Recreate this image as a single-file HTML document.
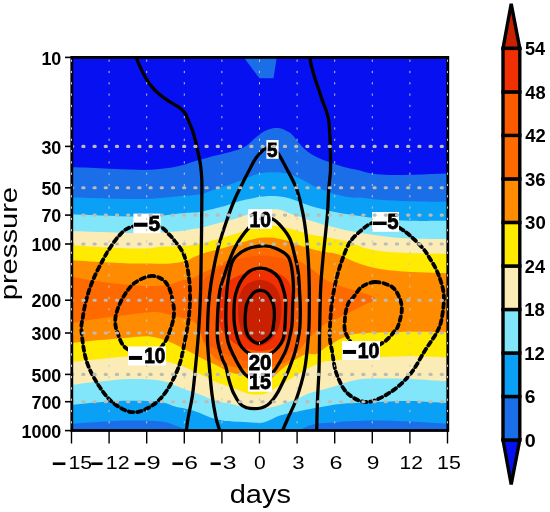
<!DOCTYPE html>
<html><head><meta charset="utf-8"><style>
html,body{margin:0;padding:0;background:#fff;}
svg{display:block;}
text{font-family:"Liberation Sans",sans-serif;}
.vg{stroke:#c8c8c8;stroke-width:1;stroke-dasharray:2.2 9.1;}
.hg{stroke:#bcbcb6;stroke-width:3.1;stroke-dasharray:1.2 10;stroke-linecap:round;}
.cs{fill:none;stroke:#000;stroke-width:3.3;}
.cd{fill:none;stroke:#000;stroke-width:3.8;stroke-dasharray:4.4 3.9;stroke-linecap:round;}
.cl{font-family:"Liberation Sans",sans-serif;font-weight:bold;font-size:19px;text-anchor:middle;}
.yl{font-family:"Liberation Sans",sans-serif;font-weight:bold;font-size:17.5px;}
.xl{font-family:"Liberation Sans",sans-serif;font-size:16.5px;}
.at{font-family:"Liberation Sans",sans-serif;font-size:26px;}
.cbl{font-family:"Liberation Sans",sans-serif;font-weight:bold;font-size:15.5px;}
</style></head><body>
<svg width="550" height="512" viewBox="0 0 550 512">
<defs><clipPath id="pc"><rect x="71.5" y="57.4" width="376.3" height="373.1"/></clipPath></defs>
<rect width="550" height="512" fill="#fff"/>
<g clip-path="url(#pc)">
<rect x="60" y="50" width="400" height="390" fill="#0610f0"/>
<path d="M60.0,167.3C61.9,167.3 66.5,167.2 71.5,167.3C76.5,167.4 83.6,167.6 90.0,167.8C96.4,168.1 103.3,168.5 110.0,168.8C116.7,169.1 123.3,169.4 130.0,169.6C136.7,169.8 143.7,170.1 150.0,169.8C156.3,169.6 162.7,168.8 168.0,168.1C173.3,167.3 177.9,166.3 182.0,165.3C186.1,164.3 189.0,163.0 192.3,162.0C195.6,161.0 198.5,160.3 202.0,159.3C205.5,158.3 209.6,157.1 213.4,156.0C217.2,155.0 221.1,154.2 225.0,153.2C228.9,152.2 233.7,151.1 237.0,150.0C240.3,148.9 242.7,147.8 245.0,146.5C247.3,145.2 249.0,143.7 251.0,142.0C253.0,140.3 254.8,138.2 257.0,136.5C259.2,134.8 261.5,132.8 264.0,131.5C266.5,130.2 269.3,129.0 272.0,128.5C274.7,128.0 277.5,127.9 280.0,128.3C282.5,128.8 285.0,130.2 287.0,131.2C289.0,132.2 289.2,131.6 292.0,134.5C294.8,137.4 299.6,144.5 304.0,148.4C308.4,152.3 312.6,155.1 318.1,157.8C323.6,160.5 331.6,163.0 336.9,164.8C342.2,166.6 346.1,167.5 350.0,168.4C353.9,169.3 356.7,169.7 360.0,170.5C363.3,171.3 365.8,172.5 370.0,173.2C374.2,173.9 380.0,174.5 385.0,174.8C390.0,175.1 394.2,175.1 400.0,175.0C405.8,174.9 412.1,174.8 420.0,174.5C427.9,174.2 440.8,173.7 447.5,173.5C454.2,173.3 457.9,173.5 460.0,173.5L455,440L66,440Z" fill="#1a6ee8"/>
<path d="M243,52 L243.5,57 L259.5,78.3 L273.5,78.3 L276.8,57 L277,52Z" fill="#1a6ee8"/>
<path d="M60.0,197.3C61.9,197.3 66.5,197.2 71.5,197.3C76.5,197.4 83.6,197.9 90.0,198.1C96.4,198.3 103.3,198.3 110.0,198.5C116.7,198.7 123.3,198.9 130.0,199.0C136.7,199.1 143.7,199.1 150.0,198.8C156.3,198.5 162.7,197.8 168.0,197.3C173.3,196.8 178.0,196.2 182.0,195.9C186.0,195.6 189.0,195.5 192.0,195.2C195.0,194.9 197.5,194.8 200.0,194.3C202.5,193.8 204.5,193.0 207.0,192.2C209.5,191.3 212.0,190.2 215.0,189.2C218.0,188.2 221.7,187.1 225.0,186.0C228.3,184.9 231.7,184.0 235.0,182.8C238.3,181.6 241.7,180.1 245.0,178.8C248.3,177.5 252.2,175.8 255.0,174.8C257.8,173.8 259.5,173.4 262.0,173.0C264.5,172.6 267.0,172.4 270.0,172.3C273.0,172.2 276.7,172.1 280.0,172.4C283.3,172.7 286.7,173.2 290.0,174.2C293.3,175.2 296.7,176.9 300.0,178.5C303.3,180.1 306.7,182.3 310.0,184.0C313.3,185.7 315.5,186.8 320.0,188.5C324.5,190.2 331.7,193.0 336.9,194.5C342.1,196.0 347.1,197.1 351.0,197.6C354.9,198.1 355.2,197.1 360.0,197.5C364.8,197.9 371.7,199.2 380.0,199.8C388.3,200.4 398.8,200.9 410.0,201.2C421.2,201.5 439.2,201.7 447.5,201.8C455.8,201.9 457.9,201.8 460.0,201.8L460.0,424.0C457.9,424.0 455.8,424.2 447.5,423.8C439.2,423.4 422.1,422.2 410.0,421.6C397.9,421.1 385.8,420.5 375.0,420.5C364.2,420.5 351.7,421.2 345.0,421.5C338.3,421.8 339.5,422.2 335.0,422.5C330.5,422.8 322.5,422.9 318.0,423.5C313.5,424.1 310.7,425.1 308.0,426.0C305.3,426.9 303.8,428.0 302.0,429.0C300.2,430.0 299.0,430.7 297.0,432.0C295.0,433.3 305.3,436.2 290.0,437.0C274.7,437.8 220.8,437.7 205.0,437.0C189.2,436.3 198.3,434.3 195.0,433.0C191.7,431.7 188.3,430.2 185.0,429.0C181.7,427.8 178.3,426.7 175.0,425.5C171.7,424.3 169.2,422.8 165.0,422.0C160.8,421.2 156.2,420.9 150.0,420.7C143.8,420.5 134.7,420.5 128.0,420.6C121.3,420.7 116.3,420.9 110.0,421.2C103.7,421.5 96.4,422.1 90.0,422.5C83.6,422.9 76.5,423.6 71.5,423.8C66.5,424.1 61.9,424.0 60.0,424.0Z" fill="#0aa0f5"/>
<path d="M60.0,214.5C61.9,214.5 66.5,214.4 71.5,214.5C76.5,214.6 83.6,214.8 90.0,215.0C96.4,215.2 103.3,215.6 110.0,215.8C116.7,216.1 123.3,216.4 130.0,216.5C136.7,216.6 143.7,216.6 150.0,216.3C156.3,216.1 162.7,215.5 168.0,215.0C173.3,214.5 178.0,213.7 182.0,213.3C186.0,212.9 189.0,212.8 192.0,212.6C195.0,212.4 197.5,212.3 200.0,211.9C202.5,211.5 204.5,210.9 207.0,210.3C209.5,209.7 212.0,209.1 215.0,208.4C218.0,207.7 221.7,207.0 225.0,206.0C228.3,205.0 231.7,203.6 235.0,202.6C238.3,201.6 241.7,200.6 245.0,199.8C248.3,199.0 252.2,198.2 255.0,197.7C257.8,197.1 259.5,196.8 262.0,196.5C264.5,196.2 267.0,195.9 270.0,195.9C273.0,195.9 276.7,196.0 280.0,196.4C283.3,196.8 286.7,197.6 290.0,198.5C293.3,199.4 296.7,200.8 300.0,202.0C303.3,203.2 306.7,204.7 310.0,205.8C313.3,206.9 316.7,207.7 320.0,208.6C323.3,209.5 326.7,210.4 330.0,211.1C333.3,211.8 336.7,212.4 340.0,213.0C343.3,213.6 343.3,213.6 350.0,214.6C356.7,215.6 370.0,217.9 380.0,218.9C390.0,219.9 398.8,220.5 410.0,220.8C421.2,221.1 439.2,220.8 447.5,220.8C455.8,220.8 457.9,220.8 460.0,220.8L460.0,403.0C457.9,403.0 455.8,403.3 447.5,403.0C439.2,402.7 422.1,401.2 410.0,401.0C397.9,400.8 385.8,401.6 375.0,402.0C364.2,402.4 352.5,403.0 345.0,403.6C337.5,404.2 335.8,404.6 330.0,405.5C324.2,406.4 315.8,407.9 310.0,409.0C304.2,410.1 300.0,410.9 295.0,412.0C290.0,413.1 285.0,413.8 280.0,415.5C275.0,417.2 269.2,420.8 265.0,422.0C260.8,423.2 259.2,422.7 255.0,422.7C250.8,422.7 245.0,422.1 240.0,421.8C235.0,421.5 229.9,421.7 225.0,421.0C220.1,420.3 214.9,418.9 210.5,417.5C206.1,416.1 202.5,413.9 198.6,412.5C194.7,411.1 190.7,410.0 186.8,409.0C182.9,408.0 178.6,407.5 175.0,406.5C171.4,405.5 169.2,403.9 165.0,403.0C160.8,402.1 156.2,401.4 150.0,401.0C143.8,400.6 134.7,400.6 128.0,400.7C121.3,400.8 116.3,401.1 110.0,401.5C103.7,401.9 96.4,402.5 90.0,403.0C83.6,403.5 76.5,404.4 71.5,404.7C66.5,405.0 61.9,404.9 60.0,405.0Z" fill="#82e6fa"/>
<path d="M60.0,231.0C61.9,231.0 66.5,230.9 71.5,231.0C76.5,231.1 83.6,231.6 90.0,231.8C96.4,232.0 103.3,232.1 110.0,232.3C116.7,232.5 123.3,232.9 130.0,233.0C136.7,233.1 145.0,232.9 150.0,232.8C155.0,232.7 156.3,232.8 160.0,232.6C163.7,232.4 167.8,232.2 172.0,231.8C176.2,231.5 181.2,231.0 185.0,230.5C188.8,230.0 192.5,229.2 195.0,228.8C197.5,228.4 198.0,228.4 200.0,228.0C202.0,227.6 204.5,227.0 207.0,226.3C209.5,225.6 212.0,224.8 215.0,224.0C218.0,223.2 221.7,222.4 225.0,221.5C228.3,220.6 231.7,219.8 235.0,218.8C238.3,217.8 242.2,216.5 245.0,215.5C247.8,214.5 249.8,213.7 252.0,213.0C254.2,212.3 255.8,211.8 258.0,211.3C260.2,210.8 262.7,210.3 265.0,210.0C267.3,209.7 269.5,209.3 272.0,209.3C274.5,209.3 277.0,209.1 280.0,209.8C283.0,210.5 286.7,212.3 290.0,213.5C293.3,214.7 296.7,215.6 300.0,216.8C303.3,218.0 306.7,219.4 310.0,220.5C313.3,221.6 316.7,222.5 320.0,223.5C323.3,224.5 326.7,225.4 330.0,226.3C333.3,227.2 336.7,228.0 340.0,228.8C343.3,229.6 343.3,229.8 350.0,231.0C356.7,232.2 370.0,234.6 380.0,235.8C390.0,237.1 398.8,238.0 410.0,238.5C421.2,239.0 439.2,238.9 447.5,239.0C455.8,239.1 457.9,239.0 460.0,239.0L460.0,381.3C457.9,381.3 455.8,381.7 447.5,381.3C439.2,380.9 422.9,379.5 410.0,379.0C397.1,378.5 379.8,378.2 370.0,378.5C360.2,378.8 357.5,379.7 351.5,381.0C345.5,382.3 338.4,385.2 334.0,386.5C329.6,387.8 329.2,387.8 325.0,389.0C320.8,390.2 313.2,391.9 308.6,393.5C304.1,395.1 302.2,396.8 297.7,398.6C293.2,400.4 286.0,403.0 281.4,404.5C276.8,406.0 273.6,406.7 270.0,407.5C266.4,408.3 263.2,409.3 259.5,409.5C255.8,409.7 252.4,409.4 247.7,408.5C243.0,407.6 236.8,405.3 231.4,404.0C226.0,402.7 220.5,402.2 215.0,400.5C209.5,398.8 203.3,395.8 198.6,394.0C193.9,392.2 190.7,391.4 186.8,390.0C182.9,388.6 178.6,386.9 175.0,385.5C171.4,384.1 169.2,382.5 165.0,381.5C160.8,380.5 156.2,379.9 150.0,379.5C143.8,379.1 134.7,378.8 128.0,379.0C121.3,379.2 116.3,379.9 110.0,380.5C103.7,381.1 96.4,381.8 90.0,382.5C83.6,383.2 76.5,384.5 71.5,385.0C66.5,385.5 61.9,385.4 60.0,385.5Z" fill="#fbebb4"/>
<path d="M60.0,245.0C61.9,245.0 66.5,244.8 71.5,245.0C76.5,245.2 83.6,246.1 90.0,246.5C96.4,246.9 103.3,247.3 110.0,247.6C116.7,247.9 123.3,248.4 130.0,248.5C136.7,248.6 145.0,248.6 150.0,248.3C155.0,248.0 156.3,247.1 160.0,246.8C163.7,246.5 167.8,246.6 172.0,246.5C176.2,246.4 181.2,246.4 185.0,246.1C188.8,245.8 192.5,245.0 195.0,244.6C197.5,244.2 198.0,244.2 200.0,243.8C202.0,243.4 204.5,242.6 207.0,242.0C209.5,241.4 212.0,240.8 215.0,240.0C218.0,239.2 221.7,238.0 225.0,237.0C228.3,236.0 231.7,235.1 235.0,234.0C238.3,232.9 242.2,231.5 245.0,230.5C247.8,229.5 249.5,228.9 252.0,228.2C254.5,227.5 257.0,226.7 260.0,226.3C263.0,225.9 266.7,225.6 270.0,225.6C273.3,225.6 276.7,225.9 280.0,226.4C283.3,226.9 286.7,227.8 290.0,228.7C293.3,229.5 296.7,230.5 300.0,231.5C303.3,232.5 306.7,233.7 310.0,234.5C313.3,235.3 316.7,235.7 320.0,236.3C323.3,236.9 326.7,237.4 330.0,238.0C333.3,238.6 336.7,239.2 340.0,240.0C343.3,240.8 345.0,241.0 350.0,242.5C355.0,244.0 361.7,247.6 370.0,249.2C378.3,250.9 387.1,252.0 400.0,252.7C412.9,253.4 437.5,253.5 447.5,253.7C457.5,253.9 457.9,253.7 460.0,253.7L460.0,357.3C457.9,357.3 455.8,357.5 447.5,357.3C439.2,357.1 422.9,356.2 410.0,356.2C397.1,356.2 379.8,357.1 370.0,357.5C360.2,357.9 357.5,357.7 351.5,358.3C345.5,358.9 338.1,360.6 334.0,361.0C329.9,361.4 329.4,360.6 327.0,361.0C324.6,361.4 322.6,362.0 319.5,363.2C316.4,364.4 312.2,366.2 308.6,368.1C305.0,370.0 301.3,372.4 297.7,374.6C294.1,376.8 290.4,379.0 286.8,381.2C283.2,383.4 279.5,385.6 275.9,387.7C272.3,389.8 267.7,392.6 265.0,393.7C262.3,394.8 262.4,394.5 259.5,394.5C256.6,394.5 252.4,394.7 247.7,393.5C243.0,392.3 236.8,389.5 231.4,387.5C226.0,385.5 220.2,383.8 215.0,381.5C209.8,379.2 205.5,376.6 200.0,374.0C194.5,371.4 186.8,367.9 181.8,366.0C176.8,364.1 174.5,363.6 170.0,362.5C165.5,361.4 159.0,360.1 155.0,359.3C151.0,358.5 150.5,358.0 146.0,357.5C141.5,357.0 134.0,356.4 128.0,356.5C122.0,356.6 116.3,357.4 110.0,358.0C103.7,358.6 96.4,359.3 90.0,360.0C83.6,360.7 76.5,361.6 71.5,362.0C66.5,362.4 61.9,362.4 60.0,362.5Z" fill="#ffeb00"/>
<path d="M60.0,260.3C61.9,260.3 66.5,260.1 71.5,260.3C76.5,260.5 83.6,261.1 90.0,261.5C96.4,261.9 103.3,262.2 110.0,262.5C116.7,262.8 123.3,263.3 130.0,263.5C136.7,263.7 143.7,263.5 150.0,263.5C156.3,263.5 162.2,264.1 168.0,263.7C173.8,263.3 180.8,262.3 185.0,261.3C189.2,260.3 190.5,258.6 193.0,257.5C195.5,256.4 197.7,255.4 200.0,254.5C202.3,253.6 204.5,253.0 207.0,252.3C209.5,251.6 212.0,251.1 215.0,250.3C218.0,249.5 221.7,248.5 225.0,247.5C228.3,246.5 231.7,245.5 235.0,244.5C238.3,243.5 241.7,242.5 245.0,241.5C248.3,240.5 251.7,239.4 255.0,238.7C258.3,238.0 261.7,237.6 265.0,237.5C268.3,237.4 270.8,237.3 275.0,238.0C279.2,238.7 285.8,240.3 290.0,241.6C294.2,242.8 296.1,244.2 300.0,245.5C303.9,246.8 309.2,248.4 313.4,249.5C317.6,250.6 320.9,251.2 325.0,252.0C329.1,252.8 333.0,252.5 338.0,254.2C343.0,255.9 348.8,259.7 355.0,262.0C361.2,264.3 367.5,266.5 375.0,268.1C382.5,269.6 387.9,270.4 400.0,271.3C412.1,272.2 437.5,273.0 447.5,273.3C457.5,273.6 457.9,273.3 460.0,273.3L460.0,332.0C457.9,332.0 455.8,332.1 447.5,332.0C439.2,331.9 422.9,331.6 410.0,331.7C397.1,331.8 379.8,332.3 370.0,332.8C360.2,333.3 356.1,333.7 351.5,334.6C346.9,335.5 345.6,336.8 342.7,338.1C339.8,339.4 336.9,340.9 334.0,342.5C331.1,344.1 328.0,345.9 325.1,347.8C322.2,349.7 319.3,353.1 316.4,354.0C313.5,354.9 310.2,353.1 307.6,353.5C305.0,353.9 303.6,355.2 301.0,356.5C298.4,357.8 295.6,359.3 292.3,361.5C289.0,363.7 284.8,366.8 281.4,369.5C278.0,372.2 274.4,376.5 272.0,378.0C269.6,379.5 269.1,378.7 267.0,378.5C264.9,378.3 262.7,377.5 259.5,377.0C256.3,376.5 252.7,376.2 248.0,375.5C243.3,374.8 236.9,374.5 231.4,372.7C225.9,370.9 219.7,366.8 215.0,364.5C210.3,362.2 207.3,361.2 203.0,359.0C198.7,356.8 194.6,354.4 189.0,351.5C183.4,348.6 176.0,344.2 169.5,341.7C163.0,339.2 156.9,337.1 150.0,336.5C143.1,335.9 134.7,337.4 128.0,337.8C121.3,338.2 116.3,338.7 110.0,339.2C103.7,339.7 96.4,340.4 90.0,341.0C83.6,341.6 76.5,342.6 71.5,343.0C66.5,343.4 61.9,343.4 60.0,343.5Z" fill="#ff8c00"/>
<path d="M60.0,277.0C61.9,269.3 66.5,276.5 71.5,277.0C76.5,277.5 83.6,279.0 90.0,280.0C96.4,281.0 103.3,282.2 110.0,283.0C116.7,283.8 123.3,284.5 130.0,285.0C136.7,285.5 143.7,286.0 150.0,286.0C156.3,286.0 163.0,285.8 168.0,285.0C173.0,284.2 176.0,282.1 180.0,281.0C184.0,279.9 188.7,279.6 192.0,278.5C195.3,277.4 197.5,275.5 200.0,274.2C202.5,272.9 204.5,272.0 207.0,270.8C209.5,269.6 212.0,268.8 215.0,267.2C218.0,265.6 221.7,263.4 225.0,261.5C228.3,259.6 231.7,257.7 235.0,256.0C238.3,254.3 241.7,252.7 245.0,251.5C248.3,250.3 252.2,249.5 255.0,249.0C257.8,248.5 259.5,248.3 262.0,248.3C264.5,248.3 267.0,248.4 270.0,248.8C273.0,249.2 276.7,249.6 280.0,250.5C283.3,251.4 286.0,252.3 290.0,254.5C294.0,256.7 300.0,261.0 304.0,263.7C308.0,266.4 310.3,268.1 314.0,270.8C317.7,273.5 320.8,277.2 326.0,280.0C331.2,282.8 339.3,285.5 345.0,287.5C350.7,289.5 354.9,290.1 360.0,292.0C365.1,293.9 375.1,296.3 375.4,298.6C375.7,300.9 367.4,303.1 362.0,306.0C356.6,308.9 348.8,313.0 342.7,316.0C336.6,319.0 329.5,321.5 325.1,324.0C320.7,326.5 319.3,328.4 316.4,331.0C313.5,333.6 310.5,336.7 307.6,339.9C304.7,343.1 301.7,347.0 298.8,350.4C295.9,353.8 294.0,357.4 290.0,360.0C286.0,362.6 280.1,364.7 275.0,366.0C269.9,367.3 265.3,367.7 259.5,368.0C253.7,368.3 245.8,368.7 240.0,368.0C234.2,367.3 229.7,366.2 225.0,364.0C220.3,361.8 215.5,358.5 212.0,355.0C208.5,351.5 206.2,347.3 204.0,343.0C201.8,338.7 200.8,332.6 199.0,329.0C197.2,325.4 196.4,323.2 193.2,321.3C189.9,319.4 185.0,318.8 179.5,317.3C174.0,315.8 164.9,313.3 160.0,312.5C155.1,311.7 155.0,312.0 150.0,312.3C145.0,312.6 136.7,313.7 130.0,314.5C123.3,315.3 116.7,316.1 110.0,317.0C103.3,317.9 96.4,319.0 90.0,320.0C83.6,321.0 76.5,322.5 71.5,323.0C66.5,323.5 61.9,330.7 60.0,323.0C58.1,315.3 58.1,284.7 60.0,277.0Z" fill="#ff6a00"/>
<path d="M260.0,255.5C265.3,255.2 268.0,255.9 272.0,256.5C276.0,257.1 280.5,257.8 284.0,259.0C287.5,260.2 290.6,261.8 293.0,264.0C295.4,266.2 297.2,268.5 298.5,272.0C299.8,275.5 300.1,280.3 300.5,285.0C300.9,289.7 301.0,294.2 301.0,300.0C301.0,305.8 300.8,314.2 300.5,320.0C300.2,325.8 300.2,330.5 299.5,335.0C298.8,339.5 298.1,343.7 296.0,347.0C293.9,350.3 290.5,352.8 287.0,355.0C283.5,357.2 279.5,358.8 275.0,360.0C270.5,361.2 265.0,361.9 260.0,362.0C255.0,362.1 250.0,361.5 245.0,360.5C240.0,359.5 234.8,357.9 230.0,356.0C225.2,354.1 220.0,351.0 216.0,349.0C212.0,347.0 208.4,346.3 206.0,344.0C203.6,341.7 202.4,339.0 201.5,335.0C200.6,331.0 200.5,325.8 200.3,320.0C200.1,314.2 200.3,305.3 200.5,300.0C200.7,294.7 200.9,291.3 201.5,288.0C202.1,284.7 202.6,282.3 204.0,280.0C205.4,277.7 207.7,275.9 210.0,274.0C212.3,272.1 215.0,270.3 218.0,268.5C221.0,266.7 224.3,264.7 228.0,263.0C231.7,261.3 234.7,259.8 240.0,258.5C245.3,257.2 254.7,255.8 260.0,255.5Z" fill="#fa5a00"/>
<path d="M260.0,270.5C263.7,270.6 268.3,271.2 272.0,272.0C275.7,272.8 279.2,273.8 282.0,275.5C284.8,277.2 287.3,279.2 289.0,282.0C290.7,284.8 291.3,288.0 292.0,292.0C292.7,296.0 292.9,301.3 293.0,306.0C293.1,310.7 293.0,315.7 292.5,320.0C292.0,324.3 291.4,328.3 290.0,332.0C288.6,335.7 286.8,339.2 284.0,342.0C281.2,344.8 277.0,347.0 273.0,348.5C269.0,350.0 264.3,350.9 260.0,351.0C255.7,351.1 251.2,350.2 247.0,349.0C242.8,347.8 238.5,345.7 235.0,343.5C231.5,341.3 228.5,338.9 226.0,336.0C223.5,333.1 221.3,329.8 220.0,326.0C218.7,322.2 218.2,317.3 218.0,313.0C217.8,308.7 217.8,303.8 218.5,300.0C219.2,296.2 220.2,293.2 222.0,290.0C223.8,286.8 226.0,283.5 229.0,281.0C232.0,278.5 236.5,276.6 240.0,275.0C243.5,273.4 246.7,272.2 250.0,271.5C253.3,270.8 256.3,270.4 260.0,270.5Z" fill="#f03000"/>
<path d="M260.0,280.0C263.0,280.0 266.3,280.7 269.0,282.0C271.7,283.3 274.2,285.5 276.0,288.0C277.8,290.5 279.1,293.7 280.0,297.0C280.9,300.3 281.4,304.2 281.5,308.0C281.6,311.8 281.2,316.0 280.5,320.0C279.8,324.0 278.8,328.5 277.0,332.0C275.2,335.5 272.8,338.7 270.0,341.0C267.2,343.3 263.3,345.8 260.0,346.0C256.7,346.2 252.8,344.0 250.0,342.0C247.2,340.0 244.8,337.3 243.0,334.0C241.2,330.7 239.8,326.3 239.0,322.0C238.2,317.7 237.9,312.3 238.0,308.0C238.1,303.7 238.5,299.5 239.5,296.0C240.5,292.5 242.1,289.3 244.0,287.0C245.9,284.7 248.3,283.2 251.0,282.0C253.7,280.8 257.0,280.0 260.0,280.0Z" fill="#c82000"/>
<path d="M136.0,50.0C136.1,51.3 135.8,54.9 136.6,57.8C137.3,60.7 139.0,64.3 140.5,67.6C142.0,70.8 143.6,74.2 145.4,77.3C147.2,80.4 149.0,83.3 151.3,86.1C153.6,88.9 156.1,91.5 159.0,94.0C161.9,96.5 165.5,99.0 168.8,101.2C172.1,103.4 176.0,105.1 178.6,107.0C181.2,108.9 182.9,110.3 184.5,112.5C186.1,114.7 187.1,117.4 188.4,120.3C189.7,123.2 191.2,126.8 192.3,130.0C193.4,133.2 194.3,136.5 195.2,139.8C196.1,143.1 196.6,145.8 197.5,150.0C198.4,154.2 199.8,160.0 200.5,165.0C201.2,170.0 201.6,174.2 201.8,180.0C202.0,185.8 201.9,188.3 201.8,200.0C201.7,211.7 201.6,233.3 201.3,250.0C201.1,266.7 200.8,286.2 200.3,300.0C199.8,313.8 199.3,321.8 198.5,333.0C197.7,344.2 196.5,356.7 195.5,367.0C194.5,377.3 193.7,386.7 192.5,395.0C191.3,403.3 189.3,411.2 188.3,417.0C187.3,422.8 186.9,426.8 186.4,430.0C185.9,433.2 185.7,435.0 185.5,436.0" class="cs"/>
<path d="M309.5,50.0C309.6,51.4 309.2,54.3 309.9,58.2C310.5,62.1 312.0,68.5 313.4,73.4C314.8,78.3 316.5,82.8 318.1,87.5C319.7,92.2 321.4,97.7 322.8,101.6C324.2,105.5 325.3,107.9 326.3,111.0C327.3,114.1 328.1,116.4 328.7,120.3C329.3,124.2 329.5,129.7 329.8,134.4C330.1,139.1 330.2,142.5 330.3,148.4C330.4,154.3 330.8,163.1 330.5,170.0C330.2,176.9 329.2,182.8 328.7,190.0C328.2,197.2 328.1,205.6 327.5,213.4C326.9,221.2 326.0,229.1 325.2,236.9C324.4,244.7 323.5,252.5 322.8,260.3C322.1,268.1 321.4,275.4 320.9,283.7C320.4,292.0 320.2,301.4 320.0,310.0C319.8,318.6 319.8,325.0 319.6,335.0C319.4,345.0 319.4,359.2 319.0,370.0C318.6,380.8 317.9,390.0 317.5,400.0C317.1,410.0 316.9,424.0 316.7,430.0C316.5,436.0 316.5,435.0 316.5,436.0" class="cs"/>
<path d="M221.0,436.0C220.8,435.0 220.4,433.2 219.5,430.0C218.6,426.8 217.0,422.8 215.8,417.0C214.6,411.2 213.2,403.2 212.1,395.0C211.0,386.8 210.2,376.7 209.4,367.5C208.6,358.3 207.7,348.8 207.5,340.0C207.3,331.2 207.8,321.7 208.0,315.0C208.2,308.3 208.5,305.0 209.0,300.0C209.5,295.0 210.1,290.0 210.8,285.0C211.5,280.0 212.5,274.7 213.4,270.0C214.3,265.3 215.0,261.4 216.0,257.0C217.0,252.6 217.8,249.0 219.3,243.7C220.8,238.4 223.2,230.8 225.2,225.0C227.1,219.2 229.1,213.7 231.0,208.6C232.9,203.5 234.8,199.2 236.9,194.5C239.1,189.8 241.7,184.8 243.9,180.5C246.1,176.2 248.0,172.4 250.0,168.7C252.0,164.9 253.5,161.3 256.0,158.0C258.5,154.7 261.8,150.3 265.0,149.0C268.2,147.7 271.7,146.6 275.4,150.0C279.1,153.4 283.5,162.8 287.1,169.5C290.7,176.2 294.4,182.7 297.0,190.0C299.6,197.3 301.3,205.6 302.9,213.4C304.5,221.2 305.5,229.1 306.4,236.9C307.3,244.7 307.8,252.5 308.3,260.3C308.8,268.1 309.0,275.4 309.2,283.7C309.4,292.0 309.4,301.4 309.3,310.0C309.2,318.6 309.3,325.0 308.5,335.0C307.7,345.0 306.6,359.2 304.5,370.0C302.4,380.8 298.8,392.0 296.0,400.0C293.2,408.0 290.3,412.7 288.0,418.0C285.7,423.3 283.2,429.0 282.0,432.0C280.8,435.0 281.2,435.3 281.0,436.0" class="cs"/>
<path d="M250.0,226.5C246.9,229.8 244.2,233.0 241.6,236.7C239.0,240.3 236.7,244.1 234.5,248.4C232.3,252.7 230.4,258.1 228.7,262.5C227.0,266.9 225.9,270.4 224.5,275.0C223.1,279.6 221.2,283.3 220.0,290.0C218.8,296.7 218.0,306.7 217.6,315.0C217.2,323.3 216.8,332.8 217.6,340.0C218.4,347.2 220.8,354.0 222.2,358.4C223.6,362.8 224.7,362.9 225.8,366.5C226.9,370.1 227.7,375.6 229.0,380.0C230.3,384.4 231.6,389.0 233.5,393.0C235.4,397.0 238.2,401.7 240.5,404.2C242.8,406.7 244.8,407.1 247.0,407.8C249.2,408.5 251.7,408.6 254.0,408.6C256.3,408.6 258.8,408.6 261.0,408.0C263.2,407.4 265.5,406.4 267.5,405.0C269.5,403.6 271.2,401.7 273.0,399.5C274.8,397.3 276.4,394.7 278.2,391.6C279.9,388.5 281.9,384.4 283.5,381.0C285.1,377.6 286.6,374.8 288.0,371.5C289.4,368.2 290.9,363.9 292.0,361.0C293.1,358.1 293.6,357.2 294.5,354.0C295.4,350.8 296.6,346.3 297.5,342.0C298.4,337.7 299.3,333.3 299.8,328.0C300.3,322.7 300.3,315.4 300.3,310.0C300.3,304.6 300.2,301.8 299.8,295.5C299.4,289.2 299.1,278.6 298.2,272.0C297.3,265.4 296.1,261.1 294.7,255.6C293.3,250.1 292.1,243.7 290.0,239.0C287.9,234.3 284.9,230.6 282.0,227.3C279.1,224.0 276.3,220.7 272.6,219.0C268.9,217.3 263.8,215.8 260.0,217.0C256.2,218.2 253.1,223.2 250.0,226.5Z" class="cs"/>
<path d="M263.4,245.9C268.4,245.7 271.9,246.8 276.0,248.5C280.1,250.2 285.3,252.8 288.0,256.4C290.7,260.0 291.1,264.4 292.0,270.0C292.9,275.6 293.4,284.1 293.5,290.0C293.6,295.9 292.9,299.8 292.7,305.6C292.4,311.4 292.6,319.3 292.0,325.0C291.4,330.7 290.0,335.8 289.0,340.0C288.0,344.2 287.3,346.7 286.0,350.0C284.7,353.3 282.9,356.6 281.0,360.0C279.1,363.4 276.7,367.7 274.5,370.5C272.3,373.3 270.4,374.9 268.0,377.0C265.6,379.1 263.3,383.1 260.0,383.0C256.7,382.9 250.9,378.7 248.0,376.7C245.1,374.7 244.9,374.9 242.4,371.2C239.9,367.5 235.6,359.6 233.2,354.7C230.8,349.8 229.2,346.9 228.0,342.0C226.8,337.1 226.3,331.1 226.0,325.0C225.7,318.9 225.8,312.3 226.0,305.6C226.2,298.9 226.8,290.9 227.5,285.0C228.2,279.1 228.9,274.4 230.0,270.0C231.1,265.6 231.3,262.1 234.0,258.7C236.7,255.3 241.1,251.6 246.0,249.5C250.9,247.4 258.4,246.1 263.4,245.9Z" class="cs"/>
<path d="M261.0,268.1C264.5,268.1 268.1,269.4 271.0,271.0C273.9,272.6 276.6,274.7 278.6,277.5C280.6,280.3 281.8,284.2 283.0,288.0C284.2,291.8 285.2,296.3 285.6,300.0C286.0,303.7 285.7,306.1 285.6,310.3C285.5,314.5 285.4,320.3 285.0,325.0C284.6,329.7 284.5,334.6 283.3,338.4C282.1,342.1 280.2,344.9 278.0,347.5C275.8,350.1 273.0,352.4 270.0,354.0C267.0,355.6 263.1,357.0 259.8,357.0C256.5,357.0 253.0,355.6 250.0,354.0C247.0,352.4 244.1,350.1 242.0,347.5C239.9,344.9 238.8,342.1 237.6,338.4C236.3,334.6 235.1,329.7 234.5,325.0C233.9,320.3 233.9,315.0 234.0,310.3C234.1,305.6 234.3,300.9 235.0,297.0C235.7,293.1 236.8,290.1 238.0,287.0C239.2,283.9 240.3,281.4 242.3,278.7C244.3,276.0 246.9,272.8 250.0,271.0C253.1,269.2 257.5,268.1 261.0,268.1Z" class="cs"/>
<path d="M259.8,290.4C261.8,290.3 264.2,290.8 266.0,292.0C267.8,293.2 269.1,295.2 270.4,297.4C271.6,299.6 272.8,302.1 273.5,305.0C274.2,307.9 274.4,311.7 274.4,315.0C274.4,318.3 274.0,321.9 273.5,325.0C273.0,328.1 272.9,331.2 271.6,333.7C270.4,336.2 268.1,338.4 266.0,340.0C263.9,341.6 261.0,343.2 258.7,343.3C256.4,343.4 253.9,342.1 252.0,340.5C250.1,338.9 248.1,336.3 247.0,333.7C245.9,331.1 245.6,328.1 245.3,325.0C245.0,321.9 245.1,318.3 245.3,315.0C245.5,311.7 245.8,307.7 246.5,305.0C247.2,302.3 248.1,300.7 249.3,298.6C250.6,296.5 252.2,293.9 254.0,292.5C255.8,291.1 257.8,290.5 259.8,290.4Z" class="cs"/>
<path d="M147.0,224.0C152.5,223.9 157.9,225.8 161.5,227.5C165.1,229.2 166.5,231.9 168.6,234.0C170.7,236.1 171.4,236.5 174.0,240.0C176.6,243.5 181.5,248.7 184.0,255.0C186.5,261.3 188.0,270.5 189.0,278.0C190.0,285.5 190.1,293.0 190.0,300.0C189.9,307.0 189.3,313.3 188.5,320.0C187.7,326.7 186.6,332.3 185.0,340.0C183.4,347.7 182.1,357.5 179.0,366.0C175.9,374.5 171.1,384.3 166.5,391.0C161.9,397.7 157.1,402.5 151.5,406.0C145.9,409.5 139.0,412.7 132.8,412.2C126.5,411.8 119.6,407.9 114.0,403.5C108.4,399.1 103.6,393.1 99.0,386.0C94.4,378.9 89.4,370.2 86.5,361.0C83.6,351.8 82.1,338.2 81.5,331.0C80.9,323.8 81.9,323.4 82.7,318.0C83.5,312.6 84.8,305.1 86.6,298.6C88.4,292.1 90.6,285.5 93.4,279.0C96.2,272.5 100.4,264.7 103.2,259.5C106.0,254.3 107.4,251.9 110.0,248.0C112.6,244.1 115.7,239.3 118.8,236.0C121.9,232.7 123.9,230.0 128.6,228.0C133.3,226.0 141.5,224.1 147.0,224.0Z" class="cd"/>
<path d="M150.0,276.1C154.6,275.4 158.7,277.2 161.8,279.0C164.9,280.8 166.8,283.4 168.6,286.9C170.4,290.4 171.6,295.6 172.5,300.0C173.4,304.4 174.2,308.7 174.0,313.0C173.8,317.3 173.2,320.9 171.5,326.0C169.8,331.1 167.6,338.5 164.0,343.5C160.4,348.5 156.2,355.2 150.0,356.0C143.8,356.8 131.9,352.2 126.5,348.5C121.1,344.8 119.6,338.1 117.8,333.5C115.9,328.9 115.2,325.2 115.2,321.0C115.3,316.8 116.3,312.8 117.9,308.4C119.5,304.0 121.9,298.9 124.7,294.7C127.5,290.5 130.3,286.1 134.5,283.0C138.7,279.9 145.4,276.8 150.0,276.1Z" class="cd"/>
<path d="M385.0,220.0C389.7,220.8 395.6,225.3 399.8,228.0C404.1,230.7 406.8,232.7 410.5,236.0C414.2,239.3 419.4,244.4 422.3,247.7C425.2,251.0 425.5,251.3 428.1,255.6C430.7,259.9 435.3,266.7 437.9,273.2C440.5,279.7 443.1,287.2 443.8,294.7C444.4,302.2 442.9,311.9 441.8,318.1C440.7,324.4 439.7,326.8 436.9,332.2C434.1,337.6 429.5,343.4 425.0,350.5C420.5,357.6 415.8,367.5 410.0,374.5C404.2,381.5 397.2,387.9 390.0,392.5C382.8,397.1 374.1,401.9 367.0,402.0C359.9,402.1 352.6,398.0 347.5,393.3C342.4,388.6 339.1,380.5 336.5,373.6C333.9,366.7 333.3,357.8 332.2,351.8C331.1,345.8 330.1,343.3 329.8,337.7C329.5,332.1 330.1,324.5 330.5,318.0C330.9,311.5 331.5,305.1 332.5,298.6C333.5,292.1 334.8,285.5 336.4,279.0C338.0,272.5 340.0,265.7 342.3,259.5C344.6,253.3 346.8,246.9 350.0,242.0C353.2,237.1 358.1,233.1 361.7,230.0C365.3,226.9 367.6,224.9 371.5,223.2C375.4,221.5 380.3,219.2 385.0,220.0Z" class="cd"/>
<path d="M375.4,282.0C380.4,282.0 387.9,284.1 392.0,286.9C396.1,289.7 398.2,294.7 399.8,298.6C401.4,302.5 401.9,306.1 401.8,310.3C401.6,314.5 399.8,320.7 398.8,324.0C397.8,327.3 398.2,326.8 395.5,330.0C392.8,333.2 388.3,339.7 382.4,343.0C376.5,346.3 366.1,351.5 360.0,350.0C353.9,348.5 348.5,339.1 346.0,333.8C343.5,328.4 344.7,323.0 345.0,318.0C345.3,313.0 346.5,307.6 348.0,304.0C349.5,300.4 351.6,299.5 353.9,296.6C356.2,293.8 358.1,289.3 361.7,286.9C365.3,284.5 370.3,282.0 375.4,282.0Z" class="cd"/>
<rect x="266.4" y="140" width="12.2" height="18.8" fill="#fff"/>
<rect x="248" y="209.1" width="24.0" height="19.6" fill="#fff"/>
<rect x="248" y="352.8" width="24.0" height="38.9" fill="#fff"/>
<rect x="133.4" y="213.6" width="27.2" height="19.6" fill="#fff"/>
<rect x="372" y="212" width="27.0" height="19.8" fill="#fff"/>
<rect x="128" y="346.5" width="38.0" height="19.0" fill="#fff"/>
<rect x="342" y="341" width="38.0" height="19.0" fill="#fff"/>
<text transform="translate(267.12,156.69) scale(0.897,1)" font-size="21.07" font-weight="bold" stroke="#000" stroke-width="0.8">5</text>
<text transform="translate(249.38,226.69) scale(0.901,1)" font-size="21.47" font-weight="bold" stroke="#000" stroke-width="0.8">10</text>
<text transform="translate(248.69,369.99) scale(0.965,1)" font-size="21.19" font-weight="bold" stroke="#000" stroke-width="0.8">20</text>
<text transform="translate(248.95,389.49) scale(0.920,1)" font-size="21.50" font-weight="bold" stroke="#000" stroke-width="0.8">15</text>
<text transform="translate(132.97,237.21) scale(0.723,1)" font-size="37.49" font-weight="bold" >−</text>
<text transform="translate(148.56,231.19) scale(0.953,1)" font-size="21.93" font-weight="bold" stroke="#000" stroke-width="0.8">5</text>
<text transform="translate(371.64,233.89) scale(0.872,1)" font-size="32.00" font-weight="bold" >−</text>
<text transform="translate(387.27,229.39) scale(0.941,1)" font-size="21.78" font-weight="bold" stroke="#000" stroke-width="0.8">5</text>
<text transform="translate(127.71,369.66) scale(0.720,1)" font-size="36.57" font-weight="bold" >−</text>
<text transform="translate(144.20,363.39) scale(0.887,1)" font-size="21.47" font-weight="bold" stroke="#000" stroke-width="0.8">10</text>
<text transform="translate(341.71,363.66) scale(0.720,1)" font-size="36.57" font-weight="bold" >−</text>
<text transform="translate(357.67,357.89) scale(0.910,1)" font-size="21.47" font-weight="bold" stroke="#000" stroke-width="0.8">10</text>
<line x1="109.1" y1="59.6" x2="109.1" y2="430" class="vg"/>
<line x1="146.7" y1="59.6" x2="146.7" y2="430" class="vg"/>
<line x1="184.3" y1="59.6" x2="184.3" y2="430" class="vg"/>
<line x1="221.9" y1="59.6" x2="221.9" y2="430" class="vg"/>
<line x1="259.5" y1="59.6" x2="259.5" y2="430" class="vg"/>
<line x1="297.1" y1="59.6" x2="297.1" y2="430" class="vg"/>
<line x1="334.7" y1="59.6" x2="334.7" y2="430" class="vg"/>
<line x1="372.3" y1="59.6" x2="372.3" y2="430" class="vg"/>
<line x1="409.9" y1="59.6" x2="409.9" y2="430" class="vg"/>
<line x1="71.6" y1="146.4" x2="447" y2="146.4" class="hg"/>
<line x1="71.6" y1="187.8" x2="447" y2="187.8" class="hg"/>
<line x1="71.6" y1="215.1" x2="447" y2="215.1" class="hg"/>
<line x1="71.6" y1="244.0" x2="447" y2="244.0" class="hg"/>
<line x1="71.6" y1="300.2" x2="447" y2="300.2" class="hg"/>
<line x1="71.6" y1="333.0" x2="447" y2="333.0" class="hg"/>
<line x1="71.6" y1="374.4" x2="447" y2="374.4" class="hg"/>
<line x1="71.6" y1="401.7" x2="447" y2="401.7" class="hg"/>
</g>
<rect x="71.8" y="57.4" width="376" height="373.1" fill="none" stroke="#000" stroke-width="2.8"/>
<line x1="71.5" y1="59.6" x2="71.5" y2="430" class="vg"/>
<line x1="447.5" y1="59.6" x2="447.5" y2="430" class="vg"/>
<line x1="65" y1="57.4" x2="71.5" y2="57.4" stroke="#000" stroke-width="1.6"/>
<text transform="translate(41.41,64.64) scale(0.943,1)" font-size="19.00" font-weight="bold" >10</text>
<line x1="65" y1="146.4" x2="71.5" y2="146.4" stroke="#000" stroke-width="1.6"/>
<text transform="translate(41.41,153.66) scale(0.943,1)" font-size="19.00" font-weight="bold" >30</text>
<line x1="65" y1="187.8" x2="71.5" y2="187.8" stroke="#000" stroke-width="1.6"/>
<text transform="translate(41.41,195.07) scale(0.943,1)" font-size="19.00" font-weight="bold" >50</text>
<line x1="65" y1="215.1" x2="71.5" y2="215.1" stroke="#000" stroke-width="1.6"/>
<text transform="translate(41.41,222.34) scale(0.943,1)" font-size="19.00" font-weight="bold" >70</text>
<line x1="65" y1="244.0" x2="71.5" y2="244.0" stroke="#000" stroke-width="1.6"/>
<text transform="translate(31.44,251.24) scale(0.943,1)" font-size="19.00" font-weight="bold" >100</text>
<line x1="65" y1="300.2" x2="71.5" y2="300.2" stroke="#000" stroke-width="1.6"/>
<text transform="translate(31.44,307.41) scale(0.943,1)" font-size="19.00" font-weight="bold" >200</text>
<line x1="65" y1="333.0" x2="71.5" y2="333.0" stroke="#000" stroke-width="1.6"/>
<text transform="translate(31.44,340.26) scale(0.943,1)" font-size="19.00" font-weight="bold" >300</text>
<line x1="65" y1="374.4" x2="71.5" y2="374.4" stroke="#000" stroke-width="1.6"/>
<text transform="translate(31.44,381.67) scale(0.943,1)" font-size="19.00" font-weight="bold" >500</text>
<line x1="65" y1="401.7" x2="71.5" y2="401.7" stroke="#000" stroke-width="1.6"/>
<text transform="translate(31.44,408.94) scale(0.943,1)" font-size="19.00" font-weight="bold" >700</text>
<line x1="65" y1="430.6" x2="71.5" y2="430.6" stroke="#000" stroke-width="1.6"/>
<text transform="translate(21.48,437.84) scale(0.943,1)" font-size="19.00" font-weight="bold" >1000</text>
<line x1="71.5" y1="430.5" x2="71.5" y2="443.5" stroke="#000" stroke-width="1.4"/>
<line x1="109.1" y1="430.5" x2="109.1" y2="443.5" stroke="#000" stroke-width="1.4"/>
<line x1="146.7" y1="430.5" x2="146.7" y2="443.5" stroke="#000" stroke-width="1.4"/>
<line x1="184.3" y1="430.5" x2="184.3" y2="443.5" stroke="#000" stroke-width="1.4"/>
<line x1="221.9" y1="430.5" x2="221.9" y2="443.5" stroke="#000" stroke-width="1.4"/>
<line x1="259.5" y1="430.5" x2="259.5" y2="443.5" stroke="#000" stroke-width="1.4"/>
<line x1="297.1" y1="430.5" x2="297.1" y2="443.5" stroke="#000" stroke-width="1.4"/>
<line x1="334.7" y1="430.5" x2="334.7" y2="443.5" stroke="#000" stroke-width="1.4"/>
<line x1="372.3" y1="430.5" x2="372.3" y2="443.5" stroke="#000" stroke-width="1.4"/>
<line x1="409.9" y1="430.5" x2="409.9" y2="443.5" stroke="#000" stroke-width="1.4"/>
<line x1="447.5" y1="430.5" x2="447.5" y2="443.5" stroke="#000" stroke-width="1.4"/>
<text transform="translate(51.66,471.55) scale(1.026,1)" font-size="24.50" font-weight="bold" >−</text>
<text transform="translate(68.38,468.68) scale(1.134,1)" font-size="18.80" font-weight="normal" >15</text>
<text transform="translate(90.16,471.55) scale(0.928,1)" font-size="24.50" font-weight="bold" >−</text>
<text transform="translate(105.76,468.86) scale(1.144,1)" font-size="18.80" font-weight="normal" >12</text>
<text transform="translate(133.82,471.55) scale(0.863,1)" font-size="24.50" font-weight="bold" >−</text>
<text transform="translate(146.50,468.77) scale(1.359,1)" font-size="18.80" font-weight="normal" >9</text>
<text transform="translate(171.42,471.55) scale(0.863,1)" font-size="24.50" font-weight="bold" >−</text>
<text transform="translate(184.24,468.77) scale(1.314,1)" font-size="18.80" font-weight="normal" >6</text>
<text transform="translate(209.75,471.55) scale(0.830,1)" font-size="24.50" font-weight="bold" >−</text>
<text transform="translate(222.76,468.77) scale(1.313,1)" font-size="18.80" font-weight="normal" >3</text>
<text transform="translate(253.97,468.77) scale(1.124,1)" font-size="18.80" font-weight="normal" >0</text>
<text transform="translate(292.25,468.77) scale(1.178,1)" font-size="18.80" font-weight="normal" >3</text>
<text transform="translate(329.60,468.77) scale(1.245,1)" font-size="18.80" font-weight="normal" >6</text>
<text transform="translate(366.73,468.77) scale(1.209,1)" font-size="18.80" font-weight="normal" >9</text>
<text transform="translate(399.49,468.86) scale(1.117,1)" font-size="18.80" font-weight="normal" >12</text>
<text transform="translate(437.06,468.68) scale(1.140,1)" font-size="18.80" font-weight="normal" >15</text>
<text transform="translate(229.68,502.50) scale(1.126,1)" font-size="25.80" font-weight="normal" >days</text>
<g transform="translate(17.3,298.4) rotate(-90)"><text transform="translate(-1.88,0.00) scale(1.256,1)" font-size="23.20" font-weight="normal" >pressure</text></g>
<path d="M503,440.0 L511.2,484.5 L519.8,440.0Z" fill="#0610f0" stroke="#000" stroke-width="3.4" stroke-linejoin="miter"/>
<path d="M503,48.4 L511.2,3.8 L519.8,48.4Z" fill="#c82000" stroke="#000" stroke-width="3.4" stroke-linejoin="miter"/>
<rect x="503" y="396.5" width="16.8" height="43.5" fill="#1a6ee8" stroke="#000" stroke-width="3.4"/>
<rect x="503" y="353.0" width="16.8" height="43.5" fill="#0aa0f5" stroke="#000" stroke-width="3.4"/>
<rect x="503" y="309.5" width="16.8" height="43.5" fill="#82e6fa" stroke="#000" stroke-width="3.4"/>
<rect x="503" y="266.0" width="16.8" height="43.5" fill="#fbebb4" stroke="#000" stroke-width="3.4"/>
<rect x="503" y="222.5" width="16.8" height="43.5" fill="#ffeb00" stroke="#000" stroke-width="3.4"/>
<rect x="503" y="178.9" width="16.8" height="43.5" fill="#ff8c00" stroke="#000" stroke-width="3.4"/>
<rect x="503" y="135.4" width="16.8" height="43.5" fill="#ff6a00" stroke="#000" stroke-width="3.4"/>
<rect x="503" y="91.9" width="16.8" height="43.5" fill="#fa5a00" stroke="#000" stroke-width="3.4"/>
<rect x="503" y="48.4" width="16.8" height="43.5" fill="#f03000" stroke="#000" stroke-width="3.4"/>
<text transform="translate(524.72,446.63) scale(1.074,1)" font-size="18.40" font-weight="bold" >0</text>
<text transform="translate(524.80,403.12) scale(1.046,1)" font-size="18.40" font-weight="bold" >6</text>
<text transform="translate(524.34,359.70) scale(1.002,1)" font-size="18.40" font-weight="bold" >12</text>
<text transform="translate(524.34,316.10) scale(1.003,1)" font-size="18.40" font-weight="bold" >18</text>
<text transform="translate(524.87,272.68) scale(0.988,1)" font-size="18.40" font-weight="bold" >24</text>
<text transform="translate(525.07,229.07) scale(1.011,1)" font-size="18.40" font-weight="bold" >30</text>
<text transform="translate(525.08,185.56) scale(1.006,1)" font-size="18.40" font-weight="bold" >36</text>
<text transform="translate(525.22,142.15) scale(1.003,1)" font-size="18.40" font-weight="bold" >42</text>
<text transform="translate(525.22,98.55) scale(0.994,1)" font-size="18.40" font-weight="bold" >48</text>
<text transform="translate(524.94,54.95) scale(0.990,1)" font-size="18.40" font-weight="bold" >54</text>
</svg>
</body></html>
